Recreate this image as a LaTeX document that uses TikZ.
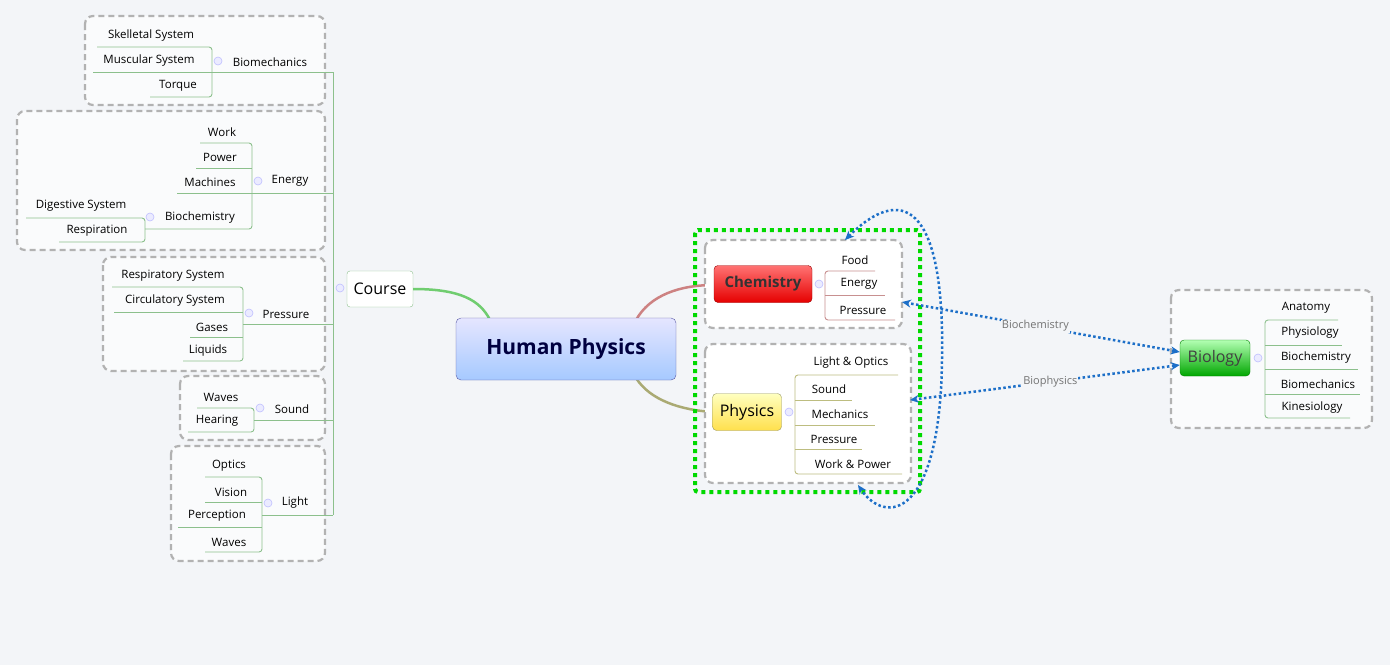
\documentclass[tikz,border=0pt]{standalone}
\usepackage{fontspec}
\setmainfont{Open Sans}
\usetikzlibrary{arrows.meta}
\definecolor{bg}{HTML}{F3F5F8}
\definecolor{gl}{HTML}{8CC08C}
\definecolor{rl}{HTML}{C89090}
\definecolor{yl}{HTML}{BDBD80}
\definecolor{bl}{HTML}{1C6FC8}
\begin{document}
\begin{tikzpicture}[x=1pt,y=-1pt,
  leaf/.style={font=\fontsize{11.5}{14}\selectfont,inner sep=0pt},
  grp/.style={draw=gray!60,line width=2.2pt,dash pattern=on 6pt off 4pt,rounded corners=8pt,fill=white!60!bg},
  gline/.style={draw=gl,line width=0.9pt,rounded corners=3pt},
  rline/.style={draw=rl,line width=0.9pt,rounded corners=3pt},
  yline/.style={draw=yl,line width=0.9pt,rounded corners=3pt},
  col/.style={circle,draw=blue!25,fill=blue!8,minimum size=8pt,inner sep=0pt,line width=0.6pt},
  rel/.style={draw=bl,line width=2.5pt,dash pattern=on 2.5pt off 2.5pt,{Stealth[length=9pt,width=8pt]}-{Stealth[length=9pt,width=8pt]}},
  rellab/.style={font=\fontsize{11}{13}\selectfont,text=gray!90!black,fill=bg,inner sep=1pt}]
\useasboundingbox (0,0) rectangle (1390,665);
\fill[bg] (0,0) rectangle (1390,665);
% group boxes
\draw[grp] (85,16) rectangle (325,105);
\draw[grp] (17,111) rectangle (325,250);
\draw[grp] (103,257) rectangle (325,371);
\draw[grp] (180,376) rectangle (325,440);
\draw[grp] (171,446) rectangle (325,561);
% group1
\draw[gline] (97,47)--(212,47)--(212,97)--(150,97);
\draw[gline] (93,72)--(333,72);
\node[leaf] (skel) at (151,36) {Skelletal System};
\node[leaf] (musc) at (149,61) {Muscular System};
\node[leaf] (torq) at (178,86) {Torque};
\node[leaf] (biom) at (270,62) {Biomechanics};
\node[col] (c1) at (218,61) {};
% group2
\draw[gline] (200,143)--(252,143)--(252,229)--(145,229);
\draw[gline] (196,168)--(252,168);
\draw[gline] (177,193)--(333,193);
\draw[gline] (26,218)--(145,218)--(145,242)--(59,242);
\node[leaf] (work) at (222,132) {Work};
\node[leaf] (power) at (220,157) {Power};
\node[leaf] (mach) at (210,182) {Machines};
\node[leaf] (energy) at (290,181) {Energy};
\node[col] (c2) at (258,181) {};
\node[leaf] (bioch) at (200,218) {Biochemistry};
\node[col] (c3) at (150,217) {};
\node[leaf] (dig) at (81,206) {Digestive System};
\node[leaf] (resp) at (97,231) {Respiration};
% group3
\draw[gline] (112,287)--(243,287)--(243,361)--(183,361);
\draw[gline] (114,312)--(243,312);
\draw[gline] (190,337)--(243,337);
\draw[gline] (243,324)--(333,324);
\node[leaf] (rs) at (173,276) {Respiratory System};
\node[leaf] (cs) at (175,301) {Circulatory System};
\node[leaf] (gas) at (212,327) {Gases};
\node[leaf] (liq) at (208,351) {Liquids};
\node[leaf] (pres) at (286,314) {Pressure};
\node[col] (c4) at (249,313) {};
% group4
\draw[gline] (197,408)--(254,408)--(254,432)--(188,432);
\draw[gline] (254,420)--(333,420);
\node[leaf] (wav) at (221,397) {Waves};
\node[leaf] (hear) at (217,421) {Hearing};
\node[leaf] (sound) at (292,409) {Sound};
\node[col] (c5) at (260,408) {};
% group5
\draw[gline] (205,477)--(262,477)--(262,552)--(205,552);
\draw[gline] (205,502)--(262,502);
\draw[gline] (178,527)--(262,527);
\draw[gline] (262,515)--(333,515);
\node[leaf] (opt) at (229,466) {Optics};
\node[leaf] (vis) at (231,492) {Vision};
\node[leaf] (perc) at (217,516) {Perception};
\node[leaf] (wav2) at (229,542) {Waves};
\node[leaf] (light) at (295,503) {Light};
\node[col] (c6) at (268,503) {};
% course spine
\draw[gline,rounded corners=0pt] (333,72)--(333,515);
\node[col] (c7) at (340,288) {};
\node[draw=gl,fill=white,rounded corners=3pt,minimum width=66pt,minimum height=36pt,inner sep=0pt,font=\fontsize{16}{18}\selectfont] (course) at (380,289) {Course};
% central
\draw[draw=gl!80!green,line width=2.5pt] (course.east) .. controls (460,289) and (480,300) .. (490,320);
\draw[draw=rl!90!red,line width=2.5pt] (636,320) .. controls (650,295) and (680,285) .. (714,285);
\draw[draw=yl!90!black,line width=2.5pt] (636,378) .. controls (650,400) and (680,410) .. (713,412);
\node[draw=gray!70!blue,rounded corners=5pt,top color=blue!10,bottom color=cyan!40!blue!35,minimum width=220pt,minimum height=62pt,inner sep=0pt,font=\fontsize{21}{26}\selectfont\bfseries,text=black!75!blue] (hp) at (566,349) {Human Physics};
% green dotted box
\draw[draw=green!85!black,line width=4pt,dash pattern=on 4pt off 4pt,rounded corners=3pt] (695,230) rectangle (920,492);
\draw[grp,fill=white] (705,240) rectangle (902,328);
\draw[grp,fill=white] (705,344) rectangle (911,483);
% chemistry
\node[draw=red!60!black,rounded corners=4pt,top color=red!55,bottom color=red!90!black,minimum width=98pt,minimum height=37pt,inner sep=0pt,font=\fontsize{15}{18}\selectfont\bfseries,text=black!80] (chem) at (763,284) {Chemistry};
\node[col] (c8) at (819,284) {};
\draw[rline] (875,271)--(825,271)--(825,320)--(895,320);
\draw[rline] (825,295)--(885,295);
\node[leaf] (food) at (855,260) {Food};
\node[leaf] (cen) at (859,284) {Energy};
\node[leaf] (cpr) at (863,310) {Pressure};
% physics
\node[draw=yl!80!black,rounded corners=4pt,top color=yellow!25,bottom color=yellow!65!orange!70,minimum width=69pt,minimum height=37pt,inner sep=0pt,font=\fontsize{16}{18}\selectfont] (phys) at (747,412) {Physics};
\node[col] (c9) at (789,412) {};
\draw[yline] (898,375)--(795,375)--(795,474)--(902,474);
\draw[yline] (795,400)--(852,400);
\draw[yline] (795,425)--(875,425);
\draw[yline] (795,449)--(862,449);
\node[leaf] (lo) at (851,363) {Light \& Optics};
\node[leaf] (snd) at (829,389) {Sound};
\node[leaf] (mech) at (840,414) {Mechanics};
\node[leaf] (ppr) at (834,439) {Pressure};
\node[leaf] (wp) at (853,464) {Work \& Power};
% biology
\draw[grp] (1171,290) rectangle (1372,428);
\node[draw=green!50!black,rounded corners=4pt,top color=green!30,bottom color=green!65!black,minimum width=70pt,minimum height=36pt,inner sep=0pt,font=\fontsize{16}{18}\selectfont,text=black!75] (bio) at (1215,358) {Biology};
\node[col] (c10) at (1258,358) {};
\draw[gline] (1338,320)--(1265,320)--(1265,418)--(1350,418);
\draw[gline] (1265,345)--(1342,345);
\draw[gline] (1265,369)--(1358,369);
\draw[gline] (1265,394)--(1360,394);
\node[leaf] (ana) at (1306,308) {Anatomy};
\node[leaf] (phy) at (1310,333) {Physiology};
\node[leaf] (bchem) at (1316,358) {Biochemistry};
\node[leaf] (bmech) at (1318,384) {Biomechanics};
\node[leaf] (kin) at (1312,408) {Kinesiology};
% relationships
\coordinate (chg) at (902,302);
\coordinate (phg) at (910,400);
\coordinate (loopa) at (845,240);
\coordinate (loopb) at (858,485);
\draw[rel] (bio.west|-0,352) -- node[rellab,pos=0.52] {Biochemistry} (chg);
\draw[rel] (bio.west|-0,365) -- node[rellab,pos=0.48] {Biophysics} (phg);
\draw[rel] (loopa) .. controls (900,185) and (945,200) .. (942,360) .. controls (940,520) and (885,525) .. (loopb);
\end{tikzpicture}
\end{document}
